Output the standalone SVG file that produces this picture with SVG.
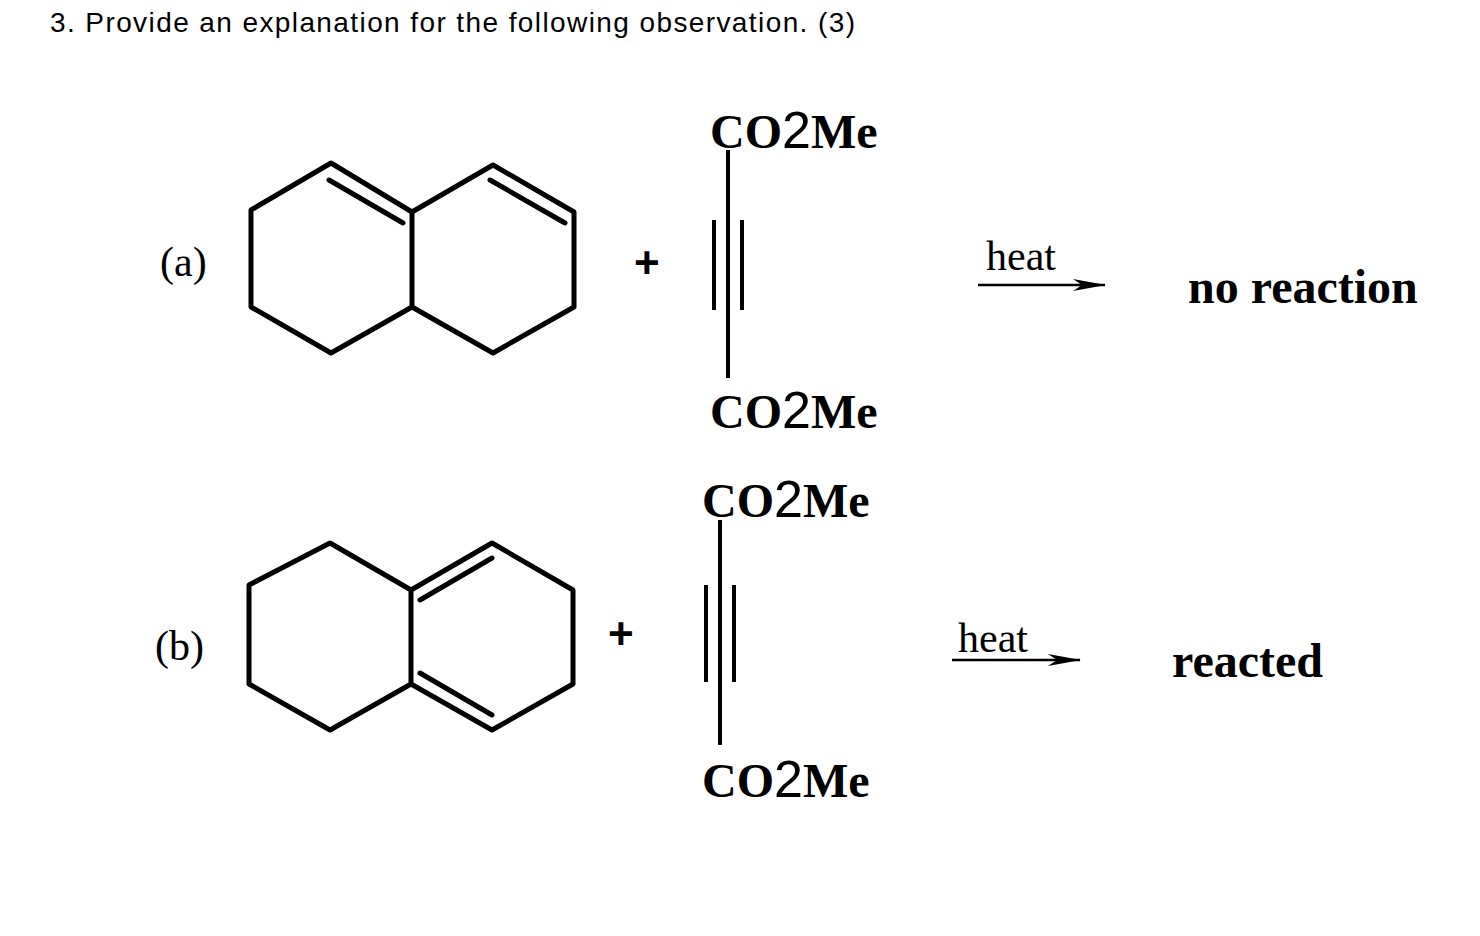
<svg xmlns="http://www.w3.org/2000/svg" width="1480" height="936" viewBox="0 0 1480 936">
<defs><marker id="ah" markerWidth="34" markerHeight="14" refX="32" refY="7" orient="auto" markerUnits="userSpaceOnUse"><path d="M0,1 L33,7 L0,13 L9,7 Z"/></marker>
<style>
.b{fill:none;stroke:#000;stroke-width:5;stroke-linejoin:round;stroke-linecap:round}
.t{stroke:#000;stroke-width:4}
.s{font-family:"Liberation Serif",serif;fill:#000}
.g{font-family:"Liberation Serif",serif;font-weight:bold;font-size:48px;fill:#000}
.n{font-family:"Liberation Sans",sans-serif;font-weight:normal;font-size:52px}
.p{font-family:"Liberation Sans",sans-serif;font-weight:bold;font-size:44px}
</style></defs>
<rect width="1480" height="936" fill="#fff"/>
<text x="50" y="32" font-family="Liberation Sans,sans-serif" font-size="28" textLength="805">3. Provide an explanation for the following observation. (3)</text>
<g id="a">
<text class="s" x="160" y="276" font-size="42">(a)</text>
<path class="b" d="M251,210 L331,163 L412,212 L412,307 L331,353 L251,307 Z M412,212 L493,165 L574,212 L574,307 L493,353 L412,307"/>
<path class="b" d="M329,180 L403,223 M490,180 L565,223"/>
<text class="p" x="634" y="278">+</text>
<line class="t" x1="728" y1="150" x2="728" y2="378"/>
<line class="t" x1="714" y1="220" x2="714" y2="310"/>
<line class="t" x1="742" y1="220" x2="742" y2="310"/>
<text class="g" x="710" y="148">CO<tspan class="n">2</tspan>Me</text>
<text class="g" x="710" y="428">CO<tspan class="n">2</tspan>Me</text>
<text class="s" x="986" y="270" font-size="42">heat</text>
<line x1="978" y1="285" x2="1105" y2="285" stroke="#000" stroke-width="2.5" marker-end="url(#ah)"/>
<text class="g" x="1188" y="303" font-size="46">no reaction</text>
</g>
<g id="b">
<text class="s" x="155" y="660" font-size="42">(b)</text>
<path class="b" d="M249,585 L330,543 L411,590 L411,684 L330,730 L249,684 Z M411,590 L492,543 L573,590 L573,684 L492,730 L411,684"/>
<path class="b" d="M420,600 L492,558 M420,673 L492,715"/>
<text class="p" x="608" y="649">+</text>
<line class="t" x1="720" y1="520" x2="720" y2="745"/>
<line class="t" x1="706" y1="585" x2="706" y2="682"/>
<line class="t" x1="734" y1="585" x2="734" y2="682"/>
<text class="g" x="702" y="517">CO<tspan class="n">2</tspan>Me</text>
<text class="g" x="702" y="797">CO<tspan class="n">2</tspan>Me</text>
<text class="s" x="958" y="652" font-size="42">heat</text>
<line x1="952" y1="660" x2="1080" y2="660" stroke="#000" stroke-width="2.5" marker-end="url(#ah)"/>
<text class="g" x="1172" y="677" font-size="46">reacted</text>
</g>
</svg>
